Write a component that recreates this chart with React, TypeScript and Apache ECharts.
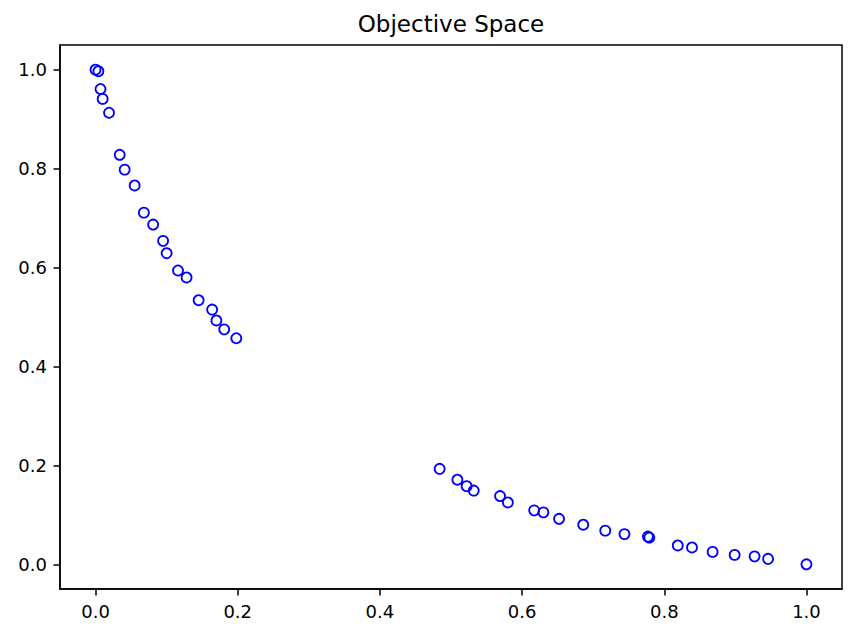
import { useEffect, useRef } from "react";
import * as echarts from "echarts";

// objective values, one entry per solution
const objective1 = [
  0.0, 0.004, 0.007, 0.01, 0.019, 0.034, 0.041, 0.055, 0.068, 0.081,
  0.095, 0.1, 0.116, 0.128, 0.145, 0.164, 0.17, 0.181, 0.198,
  0.484, 0.509, 0.522, 0.532, 0.569, 0.58, 0.617, 0.63, 0.652, 0.686,
  0.717, 0.744, 0.777, 0.779, 0.819, 0.839, 0.868, 0.899, 0.927, 0.946, 1.0,
];

const objective2 = [
  1.0, 0.997, 0.961, 0.941, 0.913, 0.828, 0.798, 0.766, 0.711, 0.687,
  0.654, 0.629, 0.594, 0.58, 0.534, 0.515, 0.493, 0.475, 0.457,
  0.193, 0.171, 0.158, 0.149, 0.138, 0.125, 0.109, 0.105, 0.092, 0.08,
  0.068, 0.061, 0.056, 0.054, 0.038, 0.034, 0.025, 0.019, 0.016, 0.011, 0.0,
];

const tickValues = [0, 0.2, 0.4, 0.6, 0.8, 1.0];

const FONT = "DejaVu Sans";

export default function App() {
  const containerRef = useRef<HTMLDivElement | null>(null);

  useEffect(() => {
    document.body.style.margin = "0";
    const container = containerRef.current;
    if (!container) {
      return;
    }

    const chart = echarts.init(container, undefined, { renderer: "svg" });

    const points = objective1.map((x, i) => [x, objective2[i]]);

    const axisCommon = {
      type: "value" as const,
      min: -0.05,
      max: 1.05,
      splitLine: { show: false },
      axisLine: { show: true, onZero: false, lineStyle: { color: "#000", width: 1.5 } },
      axisTick: {
        show: true,
        inside: false,
        length: 6.5,
        customValues: tickValues,
        lineStyle: { color: "#000", width: 1.5 },
      },
      axisLabel: {
        customValues: tickValues,
        formatter: (v: number) => v.toFixed(1),
        color: "#000",
        fontFamily: FONT,
        fontSize: 18,
        margin: 13,
      },
    };

    chart.setOption({
      animation: false,
      backgroundColor: "#ffffff",
      grid: {
        left: 60,
        right: 13,
        top: 45,
        bottom: 47,
        show: true,
        borderColor: "#000",
        borderWidth: 1.5,
        containLabel: false,
      },
      graphic: [
        {
          type: "text",
          x: 451,
          y: 24,
          style: {
            text: "Objective Space",
            fill: "#000",
            fontFamily: FONT,
            fontSize: 23,
            align: "center",
            verticalAlign: "middle",
          },
        },
      ],
      xAxis: { ...axisCommon },
      yAxis: { ...axisCommon },
      series: [
        {
          type: "scatter",
          data: points,
          symbol: "circle",
          symbolSize: 10,
          itemStyle: {
            color: "rgba(255,255,255,0)",
            borderColor: "#0000ff",
            borderWidth: 1.8,
            opacity: 1,
          },
        },
      ],
    });

    return () => {
      chart.dispose();
    };
  }, []);

  return <div ref={containerRef} style={{ width: 855, height: 636 }} />;
}
